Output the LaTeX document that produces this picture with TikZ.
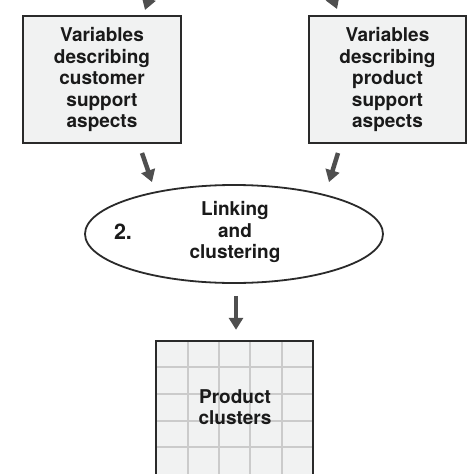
\documentclass[tikz,border=0pt]{standalone}
\usepackage{fontspec}
\setmainfont{TeX Gyre Heros}
\usetikzlibrary{arrows.meta,calc,shapes.geometric}
\definecolor{boxfill}{HTML}{F1F2F2}
\definecolor{gridc}{HTML}{CBCBCB}
\definecolor{arrc}{HTML}{4F4F4F}
\definecolor{txt}{HTML}{1A1A1A}
\definecolor{edge}{HTML}{2A2A2A}
\tikzset{
  txtfont/.style={font=\fontsize{19}{21.5}\selectfont\bfseries, text=txt},
  varbox/.style={draw=edge, line width=2pt, fill=boxfill, txtfont, align=center, inner sep=0pt},
  arr/.style={draw=arrc, line width=4.5pt, -{Triangle[length=12pt,width=14pt]}},
  oval/.style={ellipse, draw=edge, line width=1.8pt, fill=white, inner sep=0pt},
}
\begin{document}
\begin{tikzpicture}[x=1pt,y=-1pt]
\useasboundingbox (0,0) rectangle (474,474);
\clip (0,0) rectangle (474,474);
% top boxes
\node[varbox, minimum width=158pt, minimum height=127pt] (lb) at (102,79.5) {Variables\\describing\\customer\\support\\aspects};
\node[varbox, minimum width=157pt, minimum height=127pt] (rb) at (387.5,79.5) {Variables\\describing\\product\\support\\aspects};
% incoming arrows from above
\coordinate (t1) at (158,-30);
\coordinate (t2) at (322,-30);
\draw[arr] (t1) -- ($(lb.north)+(43,-5)$);
\draw[arr] (t2) -- ($(rb.north)+(-50.5,-6)$);
% ellipse
\node[oval, minimum width=298pt, minimum height=98pt] (ell) at (234,234) {};
\node[txtfont, align=center, inner sep=0pt] (lk) at (235,232) {Linking\\and\\clustering};
\node[font=\fontsize{21.5}{24}\selectfont\bfseries, text=txt, inner sep=0pt] (n2) at (123,232) {2.};
\draw[arr] ($(lb.south)+(40,9)$) -- ($(ell.north)+(-82,-2)$);
\draw[arr] ($(rb.south)+(-49.5,9)$) -- ($(ell.north)+(95,-2)$);
% bottom box
\node[minimum width=157pt, minimum height=140pt, fill=boxfill, inner sep=0pt] (bb) at (234.5,411) {};
\foreach \xx in {188,219,250,282} {\draw[gridc, line width=2pt] (\xx,341) -- (\xx,481);}
\foreach \yy in {367,394,421,447} {\draw[gridc, line width=2pt] (156,\yy) -- (313,\yy);}
\draw[edge, line width=2pt] (bb.south west) -- (bb.north west) -- (bb.north east) -- (bb.south east);
\node[txtfont, align=center, inner sep=0pt] (pc) at (235,407) {Product\\clusters};
\draw[arr] ($(ell.south)+(2,12)$) -- ($(bb.north)+(1.5,-11)$);
\end{tikzpicture}
\end{document}
